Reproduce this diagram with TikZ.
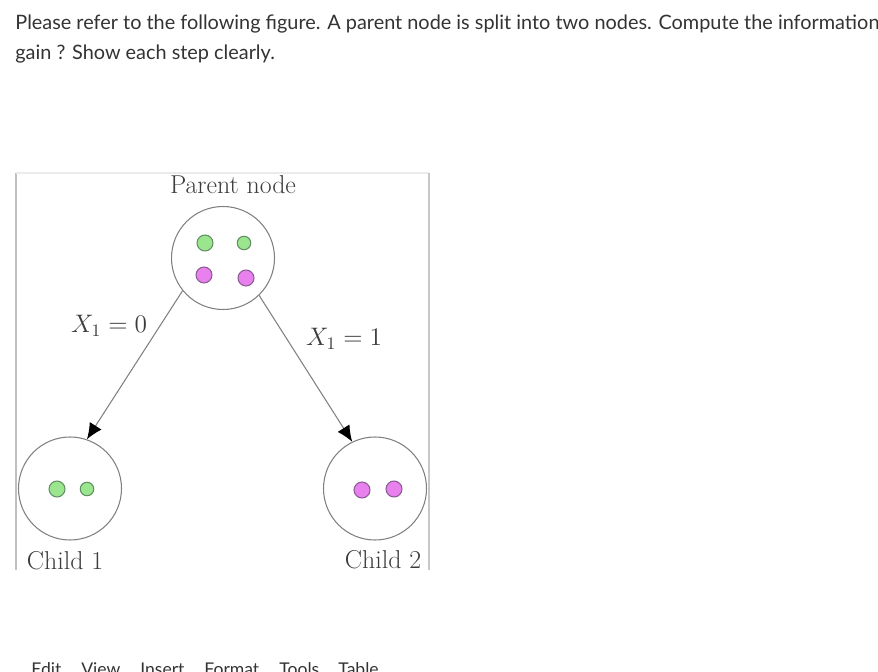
\documentclass[tikz,border=0pt]{standalone}
\usepackage{fontspec}
\setmainfont{Lato}
\newfontfamily\figfont{Latin Modern Roman}
\usepackage{xcolor}
\usetikzlibrary{positioning,arrows.meta}
\definecolor{dotgreen}{HTML}{9BE58F}
\definecolor{dotpink}{HTML}{E880EE}
\definecolor{figink}{HTML}{3C3C3C}
\definecolor{greenrim}{HTML}{5F8F62}
\definecolor{pinkrim}{HTML}{8A5A92}
\tikzset{
    bigcirc/.style={circle,draw=black!50,line width=0.6pt,minimum size=2.06cm,inner sep=0pt},
    greendot/.style={circle,draw=greenrim,fill=dotgreen,line width=0.6pt,minimum size=0.32cm,inner sep=0pt},
    pinkdot/.style={circle,draw=pinkrim,fill=dotpink,line width=0.6pt,minimum size=0.32cm,inner sep=0pt},
    figlabel/.style={text=figink,font=\figfont\fontsize{14.7}{16}\selectfont,inner sep=0pt},
    prompt/.style={anchor=base west,inner sep=0pt,text=black!80,font=\fontsize{11.31}{13}\selectfont},
    menuitem/.style={anchor=base west,inner sep=0pt,text=black!80,font=\fontsize{10}{12}\selectfont},
    edgeline/.style={draw=black!50,line width=0.6pt,-{Latex[length=0.32cm,width=0.28cm,black]}}
}

\begin{document}
\begin{tikzpicture}
    \useasboundingbox (0,0) rectangle (17.56,13.42);
    \clip (0,0) rectangle (17.56,13.42);

    % Question
    \node[prompt] (line1) at (0.30,12.82) {Please refer to the following figure. A parent node is split into two nodes. Compute the information};
    \node[prompt] (line2) at (0.30,12.22) {gain ? Show each step clearly.};

    % Frame
    \draw[black!25,line width=0.6pt] (0.32,2.02) -- (0.32,9.96);
    \draw[black!8,line width=0.6pt] (0.32,9.96) -- (8.58,9.96);
    \draw[black!22,line width=0.8pt] (8.58,9.96) -- (8.58,2.02);

    % Tree
    \node[bigcirc] (parent) at (4.46,8.26) {};
    \node[bigcirc] (child1) at (1.40,3.65) {};
    \node[bigcirc] (child2) at (7.50,3.65) {};
    \draw[edgeline] (parent.219) -- (child1.71);
    \draw[edgeline] (parent.-46) -- (child2.116);

    % Parent dots
    \node[greendot] (pg1) at (4.10,8.56) {};
    \node[greendot,minimum size=0.27cm] (pg2) at (4.88,8.56) {};
    \node[pinkdot] (pp1) at (4.08,7.92) {};
    \node[pinkdot] (pp2) at (4.92,7.86) {};

    % Child dots
    \node[greendot] (cg1) at (1.14,3.64) {};
    \node[greendot,minimum size=0.27cm] (cg2) at (1.74,3.64) {};
    \node[pinkdot] (cp1) at (7.24,3.62) {};
    \node[pinkdot] (cp2) at (7.88,3.64) {};

    % Labels
    \node[figlabel] (parentlabel) at (4.66,9.72) {Parent node};
    \node[figlabel] (childlabel1) at (1.30,2.20) {Child 1};
    \node[figlabel] (childlabel2) at (7.66,2.22) {Child 2};
    \node[figlabel] (split0) at (2.18,6.90) {$X_1=0$};
    \node[figlabel] (split1) at (6.88,6.64) {$X_1=1$};

    % Menu
    \node[menuitem] (edit) at (0.62,-0.08) {Edit};
    \node[menuitem] (view) at (1.62,-0.08) {View};
    \node[menuitem] (insert) at (2.80,-0.08) {Insert};
    \node[menuitem] (format) at (4.08,-0.08) {Format};
    \node[menuitem] (tools) at (5.58,-0.08) {Tools};
    \node[menuitem] (table) at (6.76,-0.08) {Table};
\end{tikzpicture}
\end{document}
